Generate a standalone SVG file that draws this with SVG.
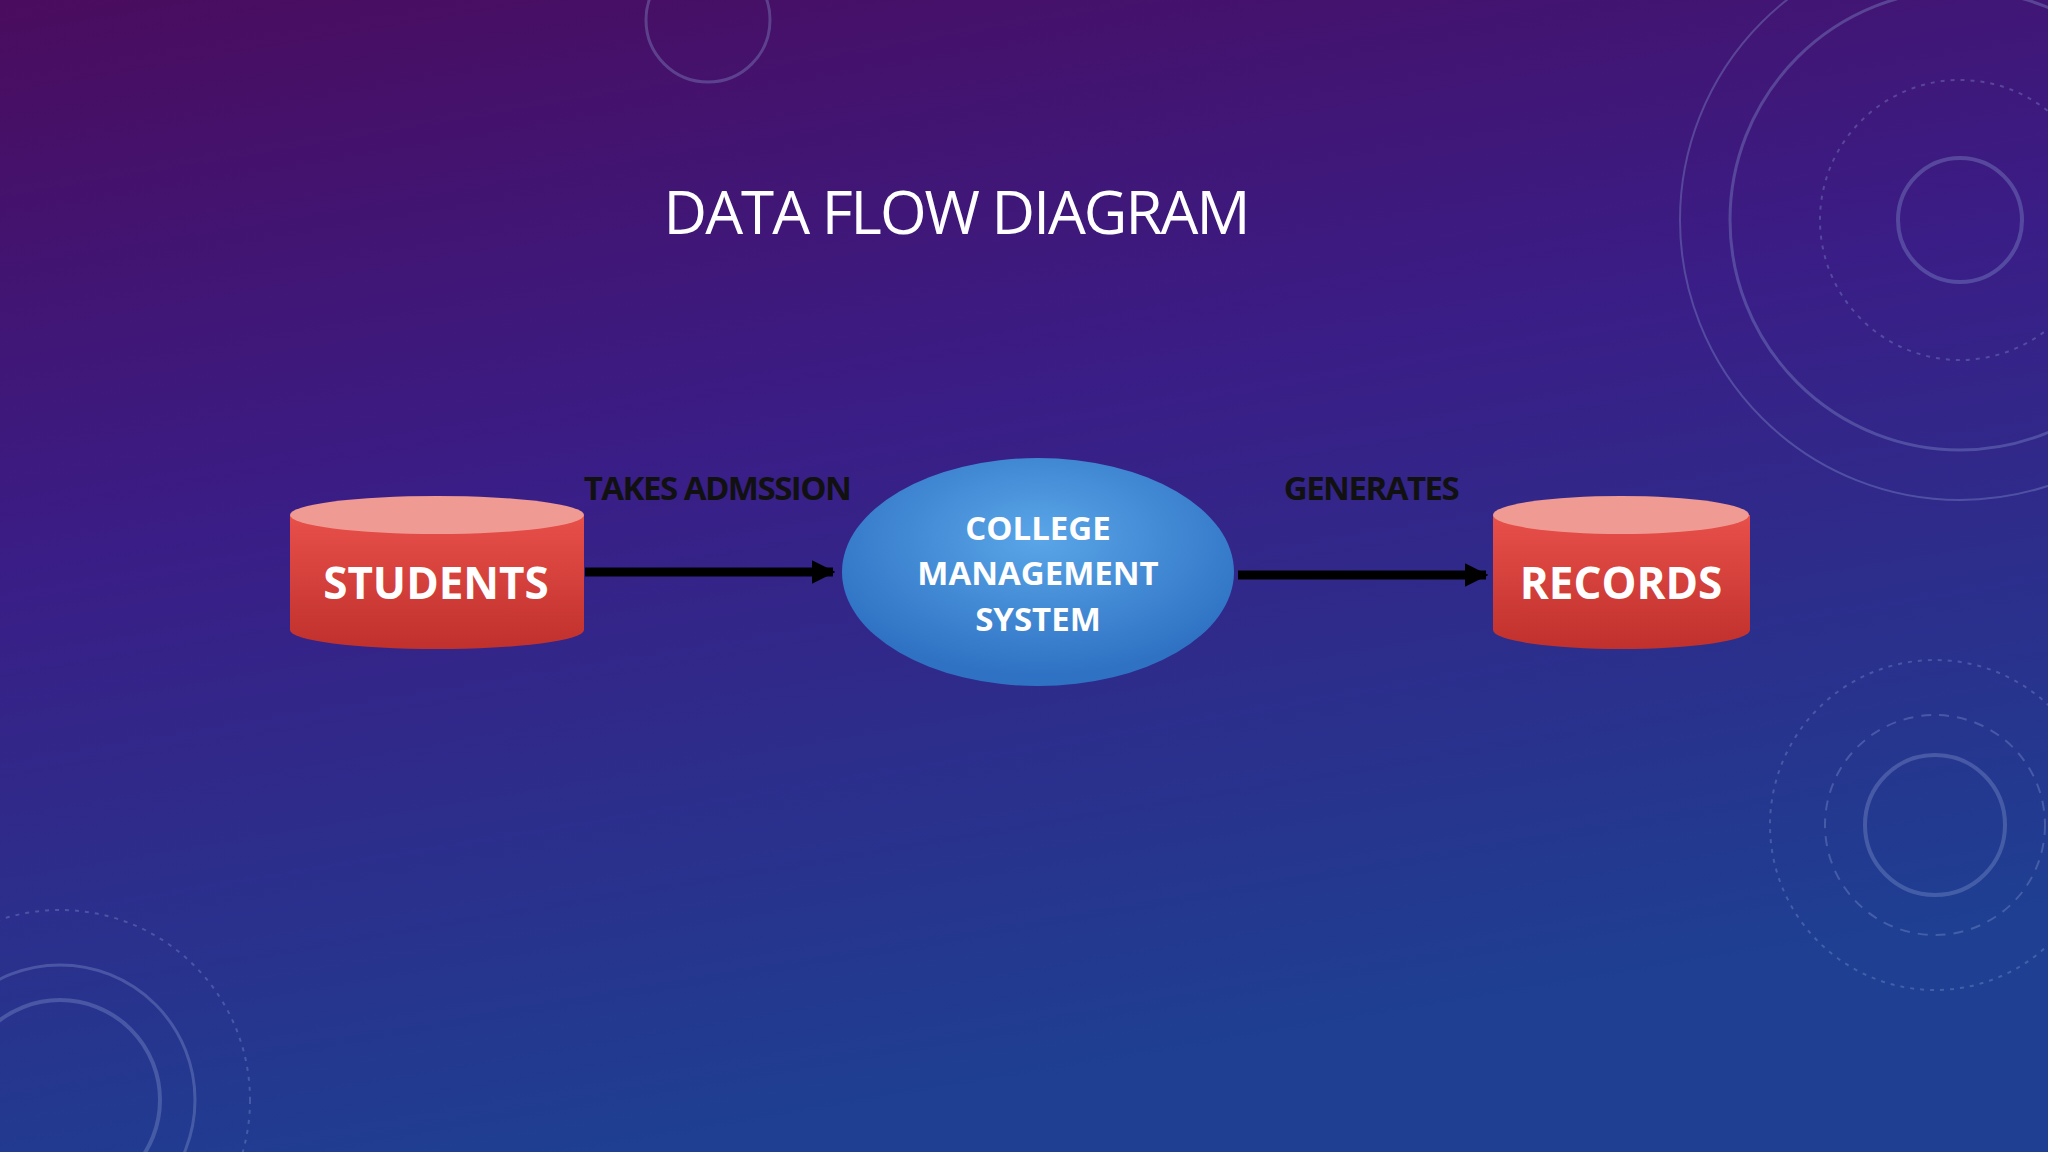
<svg xmlns="http://www.w3.org/2000/svg" width="2048" height="1152" viewBox="0 0 2048 1152">
<defs>
<linearGradient id="bg" x1="0" y1="0" x2="0.3" y2="1">
<stop offset="0" stop-color="#4a0c5e"/>
<stop offset="0.45" stop-color="#3a1d86"/>
<stop offset="1" stop-color="#1e3f92"/>
</linearGradient>
<linearGradient id="cyl" x1="0" y1="0" x2="0" y2="1">
<stop offset="0" stop-color="#e8504a"/>
<stop offset="1" stop-color="#c0302c"/>
</linearGradient>
<radialGradient id="ell" cx="0.5" cy="0.35" r="0.6">
<stop offset="0" stop-color="#5aa6e8"/>
<stop offset="1" stop-color="#2f72c4"/>
</radialGradient>
<marker id="ah" viewBox="0 0 10 10" refX="9" refY="5" markerWidth="2.6" markerHeight="2.6" orient="auto">
<path d="M0,0 L10,5 L0,10 z" fill="#000"/>
</marker>
<style>
.lbl{font-family:"Open Sans","Liberation Sans",sans-serif;font-weight:bold;fill:#fff;text-anchor:middle}
.flow{font-family:"Open Sans","Liberation Sans",sans-serif;font-weight:bold;fill:#111;font-size:33px;text-anchor:middle;letter-spacing:-1.5px}
.deco{fill:none;stroke:#8a9ad0;stroke-opacity:0.35}
</style>
</defs>
<rect width="2048" height="1152" fill="url(#bg)"/>
<g id="decor">
<circle class="deco" cx="708" cy="20" r="62" stroke-width="3"/>
<circle class="deco" cx="1960" cy="220" r="280" stroke-width="2"/>
<circle class="deco" cx="1960" cy="220" r="230" stroke-width="3"/>
<circle class="deco" cx="1960" cy="220" r="140" stroke-width="2" stroke-dasharray="4 6"/>
<circle class="deco" cx="1960" cy="220" r="62" stroke-width="4"/>
<circle class="deco" cx="1935" cy="825" r="165" stroke-width="2" stroke-dasharray="4 6"/>
<circle class="deco" cx="1935" cy="825" r="110" stroke-width="2" stroke-dasharray="10 8"/>
<circle class="deco" cx="1935" cy="825" r="70" stroke-width="4"/>
<circle class="deco" cx="60" cy="1100" r="190" stroke-width="2" stroke-dasharray="4 6"/>
<circle class="deco" cx="60" cy="1100" r="135" stroke-width="3"/>
<circle class="deco" cx="60" cy="1100" r="100" stroke-width="4"/>
</g>
<text x="956" y="234" font-family="'Open Sans','Liberation Sans',sans-serif" font-size="60" fill="#fff" text-anchor="middle" letter-spacing="-2">DATA FLOW DIAGRAM</text>
<g id="connectors">
<line x1="585" y1="572" x2="833" y2="572" stroke="#000" stroke-width="9" marker-end="url(#ah)"/>
<line x1="1238" y1="575" x2="1486" y2="575" stroke="#000" stroke-width="9" marker-end="url(#ah)"/>
<text class="flow" x="717" y="500">TAKES ADMSSION</text>
<text class="flow" x="1371" y="500">GENERATES</text>
</g>
<g id="students">
<path d="M290,515 L290,630 A147,19 0 0 0 584,630 L584,515 Z" fill="url(#cyl)"/>
<ellipse cx="437" cy="515" rx="147" ry="19" fill="#f09a94"/>
<text class="lbl" x="436" y="599" font-size="44">STUDENTS</text>
</g>
<g id="system">
<ellipse cx="1038" cy="572" rx="196" ry="114" fill="url(#ell)"/>
<text class="lbl" x="1038" y="540" font-size="33">COLLEGE</text>
<text class="lbl" x="1038" y="585" font-size="33">MANAGEMENT</text>
<text class="lbl" x="1038" y="631" font-size="33">SYSTEM</text>
</g>
<g id="records">
<path d="M1493,515 L1493,630 A128,19 0 0 0 1750,630 L1750,515 Z" fill="url(#cyl)"/>
<ellipse cx="1621" cy="515" rx="128" ry="19" fill="#f09a94"/>
<text class="lbl" x="1621" y="599" font-size="44">RECORDS</text>
</g>
</svg>
